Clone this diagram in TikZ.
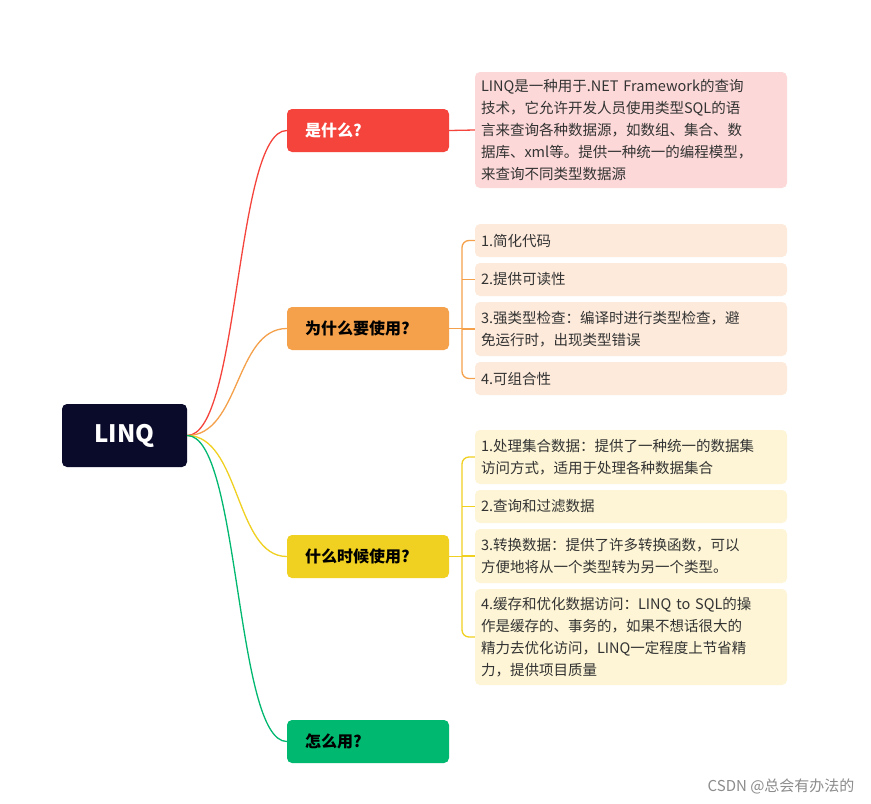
\documentclass[tikz,border=0pt]{standalone}
\usepackage{fontspec}
\setmainfont{Noto Sans CJK SC}
\begin{document}
\begin{tikzpicture}[x=1pt,y=-1pt,
  branch/.style={rounded corners=5pt,minimum width=162pt,minimum height=43pt,font=\fontsize{16}{18}\selectfont\bfseries,inner xsep=18pt,text width=126pt,align=left},
  item/.style={rounded corners=5pt,text width=300pt,inner xsep=6pt,inner ysep=4pt,align=left,font=\fontsize{14.5}{22}\selectfont,text=black!80},
  conn/.style={line width=1.3pt}]
\definecolor{cred}{HTML}{F5443C}\definecolor{cora}{HTML}{F5A04A}
\definecolor{cyel}{HTML}{F0D020}\definecolor{cgrn}{HTML}{00B870}
\definecolor{fred}{HTML}{FDD8D8}\definecolor{fora}{HTML}{FDEADB}\definecolor{fyel}{HTML}{FDF5D5}
\definecolor{navy}{HTML}{0A0A2A}
\path[use as bounding box,fill=white] (0,0) rectangle (871,804);
\node[rounded corners=5pt,fill=navy,text=white,minimum width=125pt,minimum height=63pt,font=\fontsize{24}{26}\selectfont\bfseries] (root) at (124.5,435.5) {LINQ};
\node[branch,fill=cred,text=white] (b1) at (368,130.5) {是什么?};
\node[branch,fill=cora] (b2) at (368,328.5) {为什么要使用?};
\node[branch,fill=cyel] (b3) at (368,556.5) {什么时候使用?};
\node[branch,fill=cgrn] (b4) at (368,741.5) {怎么用?};
\foreach \b/\c/\y in {b1/cred/130.5,b2/cora/328.5,b3/cyel/556.5,b4/cgrn/741.5}
  \draw[conn,\c] (root.east) .. controls (240,435.5) and (235,\y) .. (\b.west);
\node[item,fill=fred,minimum height=116pt] (r1) at (631,130) {LINQ是一种用于.NET Framework的查询\\技术，它允许开发人员使用类型SQL的语\\言来查询各种数据源，如数组、集合、数\\据库、xml等。提供一种统一的编程模型，\\来查询不同类型数据源};
\draw[conn,cred] (b1.east) -- (r1.west);
\node[item,fill=fora,minimum height=33pt] (o1) at (631,240.5) {1.简化代码};
\node[item,fill=fora,minimum height=33pt] (o2) at (631,279.5) {2.提供可读性};
\node[item,fill=fora,minimum height=54pt] (o3) at (631,329) {3.强类型检查：编译时进行类型检查，避\\免运行时，出现类型错误};
\node[item,fill=fora,minimum height=33pt] (o4) at (631,378.5) {4.可组合性};
\coordinate (ob) at (462,328.5);
\draw[conn,cora] (b2.east) -- (ob);
\draw[conn,cora,rounded corners=7pt] (o1.west) -- (462,240.5) -- (462,378.5) -- (o4.west);
\draw[conn,cora] (o2.west) -- (462,279.5);
\draw[conn,cora] (o3.west) -- (462,329);
\node[item,fill=fyel,minimum height=54pt] (y1) at (631,457) {1.处理集合数据：提供了一种统一的数据集\\访问方式，适用于处理各种数据集合};
\node[item,fill=fyel,minimum height=33pt] (y2) at (631,506.5) {2.查询和过滤数据};
\node[item,fill=fyel,minimum height=54pt] (y3) at (631,556) {3.转换数据：提供了许多转换函数，可以\\方便地将从一个类型转为另一个类型。};
\node[item,fill=fyel,minimum height=96pt] (y4) at (631,637) {4.缓存和优化数据访问：LINQ to SQL的操\\作是缓存的、事务的，如果不想话很大的\\精力去优化访问，LINQ一定程度上节省精\\力，提供项目质量};
\coordinate (yb) at (462,556.5);
\draw[conn,cyel] (b3.east) -- (yb);
\draw[conn,cyel,rounded corners=7pt] (y1.west) -- (462,457) -- (462,637) -- (y4.west);
\draw[conn,cyel] (y2.west) -- (462,506.5);
\draw[conn,cyel] (y3.west) -- (462,556);
\node[text=black!45,font=\fontsize{15}{17}\selectfont,anchor=east] (wm) at (858,786) {CSDN @总会有办法的};
\end{tikzpicture}
\end{document}
